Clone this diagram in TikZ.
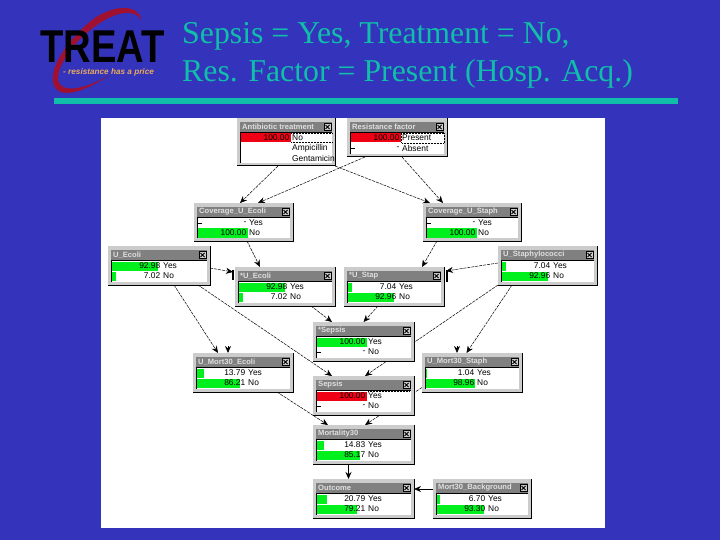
\documentclass[tikz,border=0pt]{standalone}
\usepackage{fontspec}
\setmainfont{Liberation Serif}
\setsansfont{Liberation Sans}
\usetikzlibrary{arrows.meta,backgrounds}
\definecolor{slideblue}{RGB}{51,51,187}
\definecolor{slideteal}{RGB}{16,190,170}
\definecolor{swoosh}{RGB}{160,16,48}
\definecolor{taglinecol}{RGB}{235,170,90}
\definecolor{barok}{RGB}{0,240,30}
\definecolor{barred}{RGB}{240,0,20}
\tikzset{
  headline/.style={inner sep=0pt,anchor=base west,text=slideteal,font=\fontsize{31.8}{32}\selectfont},
  winframe/.style={fill=black!20,inner sep=0pt,outer sep=0pt,anchor=north west},
  wintitle/.style={inner sep=0pt,anchor=west,text=black!12,font=\sffamily\bfseries\fontsize{7.6}{8}\selectfont},
  rowtext/.style={inner sep=0pt,font=\sffamily\fontsize{8.4}{9}\selectfont},
  link/.style={draw=black,line width=.5pt,dash pattern=on 3pt off 1pt,-{Stealth[length=7pt,width=6pt]}},
  hardlink/.style={draw=black,line width=.8pt,-{Stealth[length=7pt,width=6pt]}},
  rowdots/.style={black,line width=.5pt,densely dotted},
}
\newcommand{\netwin}[7]{
  \node[winframe,minimum width=#4pt,minimum height=#5pt] (#1) at (#2,#3) {};
  \draw[black,line width=1pt] (#1.south west)--(#1.south east)--(#1.north east);
  \fill[black!50] ({#2+3},{#3+4}) rectangle ({#2+#4-3},{#3+14});
  \node[wintitle] (#1-title) at ({#2+5},{#3+9}) {#6};
  \draw[black,fill=black!20,line width=.5pt] ({#2+#4-11},{#3+5.5}) rectangle ({#2+#4-4},{#3+12.5});
  \draw[black,line width=.9pt] ({#2+#4-9.5},{#3+7}) -- ({#2+#4-5.5},{#3+11}) ({#2+#4-5.5},{#3+7}) -- ({#2+#4-9.5},{#3+11});
  \fill[white] ({#2+3},{#3+14.5}) rectangle ({#2+#4-3},{#3+#5-3});
  \draw[black,line width=.5pt] ({#2+3},{#3+#5-3}) -- ({#2+3},{#3+14.5}) -- ({#2+#4-3},{#3+14.5});
  \foreach \val/\lab/\pct/\col [count=\i] in {#7} {
    \pgfmathsetmacro{\rowtop}{#3+15.5+(\i-1)*10}
    \pgfmathsetmacro{\barlen}{\pct/2}
    \ifdim\pct pt>0pt
      \fill[\col] ({#2+4},\rowtop) rectangle ({#2+4+\barlen},{\rowtop+9});
    \fi
    \ifdim\pct pt=0pt
      \draw[black,line width=.6pt] ({#2+4},{\rowtop+4.5}) -- ({#2+8},{\rowtop+4.5});
    \fi
    \node[rowtext,anchor=east] (#1-val\i) at ({#2+52.5},{\rowtop+4.5}) {\val};
    \node[rowtext,anchor=west] (#1-lab\i) at ({#2+55},{\rowtop+4.5}) {\lab};
  }
}
\begin{document}
\begin{tikzpicture}[x=1pt,y=-1pt]
\useasboundingbox (0,0) rectangle (720,540);
\fill[swoosh] (141,20) .. controls (140,5) and (115,3) .. (92,20) .. controls (70,38) and (50,65) .. (53,82) .. controls (55,97) and (75,98) .. (110,75) .. controls (80,92) and (60,92) .. (58,80) .. controls (57,65) and (75,40) .. (97,25) .. controls (115,12) and (135,8) .. (141,20) -- cycle;
\node[inner sep=0pt,anchor=base west] (logo) at (40,63) {\scalebox{.83}[1]{\sffamily\bfseries\fontsize{46}{46}\selectfont TREAT}};
\node[inner sep=0pt,anchor=base west,text=taglinecol] (tagline) at (63,75) {\sffamily\bfseries\itshape\fontsize{8.2}{8}\selectfont - resistance has a price};
\node[headline] (headone) at (182,44) {Sepsis = Yes, Treatment = No,};
\node[headline] (headtwo) at (182,82) {Res. Factor = Present (Hosp. Acq.)};
\fill[slideteal] (54,98.5) rectangle (678,104.5);

\netwin{antibiotic}{237}{118}{98}{48}{Antibiotic treatment}{100.00/No/100/barred,{}/Ampicillin/-1/white,{}/Gentamicin/-1/white}
\netwin{resfactor}{347}{118}{100}{39}{Resistance factor}{100.00/Present/100/barred,-/Absent/0/white}
\netwin{covecoli}{194}{203}{99}{38}{Coverage\_U\_Ecoli}{-/Yes/0/white,100.00/No/100/barok}
\netwin{covstaph}{423}{203}{98}{38}{Coverage\_U\_Staph}{-/Yes/0/white,100.00/No/100/barok}
\netwin{uecoli}{108}{246}{102}{39}{U\_Ecoli}{92.98/Yes/92.98/barok,7.02/No/7.02/barok}
\netwin{ustaph}{498}{246}{99}{39}{U\_Staphylococci}{7.04/Yes/7.04/barok,92.96/No/92.96/barok}
\netwin{starecoli}{235}{267}{100}{39}{*U\_Ecoli}{92.98/Yes/92.98/barok,7.02/No/7.02/barok}
\netwin{starstaph}{344}{267}{100}{39}{*U\_Stap}{7.04/Yes/7.04/barok,92.96/No/92.96/barok}
\netwin{starsepsis}{313}{322}{101}{39}{*Sepsis}{100.00/Yes/100/barok,-/No/0/white}
\netwin{martecoli}{193}{353}{100}{39}{U\_Mort30\_Ecoli}{13.79/Yes/13.79/barok,86.21/No/86.21/barok}
\netwin{martstaph}{422}{353}{100}{39}{U\_Mort30\_Staph}{1.04/Yes/1.04/barok,98.96/No/98.96/barok}
\netwin{sepsis}{313}{376}{101}{39}{Sepsis}{100.00/Yes/100/barred,-/No/0/white}
\netwin{mortality}{313}{425}{101}{39}{Mortality30}{14.83/Yes/14.83/barok,85.17/No/85.17/barok}
\netwin{outcome}{313}{479}{101}{39}{Outcome}{20.79/Yes/20.79/barok,79.21/No/79.21/barok}
\netwin{martback}{433}{479}{98}{39}{Mort30\_Background}{6.70/Yes/6.70/barok,93.30/No/93.30/barok}

\draw[rowdots] (291,133)--(332,133) (291,142.5)--(332,142.5);
\draw[rowdots] (401.5,133) rectangle (444,143);
\draw[rowdots] (368,391)--(410,391);

\coordinate (stubecoli) at ([xshift=-15pt,yshift=7pt]martecoli.north);
\coordinate (stubstaph) at ([xshift=-15pt,yshift=7pt]martstaph.north);

\begin{scope}[on background layer]
\fill[slideblue] (0,0) rectangle (720,540);
\fill[white] (101,118) rectangle (605,528);
\draw[link] ([xshift=-8pt]antibiotic.south) -- ([xshift=-3.5pt]covecoli.north);
\draw[link] (antibiotic.south east) -- ([xshift=-42pt]covstaph.north);
\draw[link] ([xshift=-32pt]resfactor.south) -- ([xshift=14.5pt]covecoli.north);
\draw[link] ([xshift=5pt]resfactor.south) -- ([xshift=-29pt]covstaph.north);
\draw[link] ([xshift=3.5pt]covecoli.south) -- ([xshift=-25pt]starecoli.north);
\draw[link] ([xshift=-35pt]covstaph.south) -- ([xshift=28pt]starstaph.north);
\draw[link] ([yshift=-2.5pt]uecoli.east) -- ([yshift=14.5pt,xshift=-2pt]starecoli.west);
\draw[link] ([yshift=2.5pt]ustaph.west) -- ([yshift=15.5pt,xshift=2pt]starstaph.east);
\draw[black,line width=1.5pt] ([yshift=16.5pt,xshift=-2pt]starecoli.west) -- ([yshift=6.5pt,xshift=-2pt]starecoli.west);
\draw[black,line width=1.5pt] ([yshift=16.5pt,xshift=3pt]starstaph.east) -- ([yshift=4.5pt,xshift=3pt]starstaph.east);
\draw[link] ([xshift=26pt]starecoli.south) -- ([xshift=-31.5pt]starsepsis.north);
\draw[link] ([xshift=-16pt]starstaph.south) -- (starsepsis.north);
\draw[link] ([xshift=15pt]uecoli.south) -- ([xshift=-25pt]martecoli.north);
\draw[link] ([xshift=39pt]uecoli.south) -- ([xshift=-31.5pt]sepsis.north);
\draw[link] ([xshift=-35.5pt]ustaph.south) -- ([xshift=-5.5pt]martstaph.north);
\draw[link] (ustaph.south west) -- ([xshift=1.5pt]sepsis.north);
\draw[link] ([yshift=-15pt]martstaph.west) -- ([xshift=1.5pt]mortality.north);
\draw[link] ([xshift=34pt]martecoli.south) -- ([xshift=-35.5pt]mortality.north);
\draw[hardlink] ([xshift=-15pt]mortality.south) -- ([xshift=-15pt]outcome.north);
\draw[hardlink] ([yshift=9.5pt]martback.west) -- ([yshift=9.5pt]outcome.east);
\draw[hardlink] (stubecoli) -- ([xshift=-15pt]martecoli.north);
\draw[hardlink] (stubstaph) -- ([xshift=-15pt]martstaph.north);
\end{scope}
\end{tikzpicture}
\end{document}
